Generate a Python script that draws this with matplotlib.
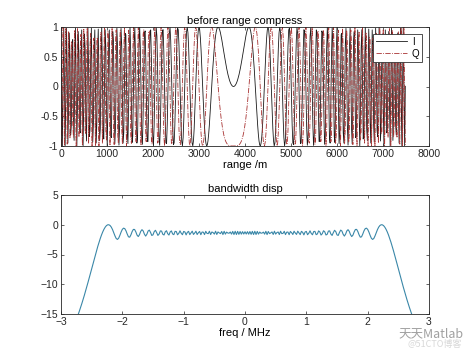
import numpy as np
import matplotlib
matplotlib.use("Agg")
import matplotlib.pyplot as plt

# chirp parameters
c = 3e8
pulse_width = 50e-6        # s  -> 7500 m of range
bandwidth = 5.0e6          # Hz -> spectrum peaks near +-2.22 MHz
fs = 2.0 * bandwidth       # sample rate
range_ticks = [0, 1000, 2000, 3000, 4000, 5000, 6000, 7000, 8000]
amp_ticks = [-1, -0.5, 0, 0.5, 1]
amp_labels = ['-1', '-0.5', '0', '0.5', '1']
freq_ticks = [-3, -2, -1, 0, 1, 2, 3]
db_ticks = [-15, -10, -5, 0, 5]

K = bandwidth / pulse_width
n = int(round(pulse_width * fs))
t = np.arange(n) / fs
tau = t - pulse_width / 2
sig = -1j * np.exp(1j * np.pi * K * tau ** 2)
rng = c * t / 2

spec = np.fft.fftshift(np.abs(np.fft.fft(sig)))
spec_db = 20 * np.log10(spec / spec.max())
freq = np.fft.fftshift(np.fft.fftfreq(n, 1 / fs)) / 1e6

plt.rcParams['font.family'] = ['Liberation Sans', 'DejaVu Sans']
plt.rcParams['font.size'] = 7.5

fig = plt.figure(figsize=(4.74, 3.55), dpi=100)
ax1 = fig.add_axes([61 / 474, 1 - 146 / 355, 368 / 474, 119 / 355])
ax2 = fig.add_axes([61 / 474, 1 - 314 / 355, 368 / 474, 119 / 355])

ax1.plot(rng, sig.real, color='#1a1a1a', lw=0.6, label='I')
ax1.plot(rng, sig.imag, color='#a83232', lw=0.6, ls='-.', label='Q')
ax1.set_xlim(0, 8000)
ax1.set_ylim(-1, 1)
ax1.set_xticks(range_ticks)
ax1.set_yticks(amp_ticks)
ax1.set_yticklabels(amp_labels)
ax1.set_title('before range compress', fontsize=8, pad=2)
ax1.set_xlabel('range /m', fontsize=8, labelpad=1)
leg = ax1.legend(loc='upper right', fontsize=7, fancybox=False, framealpha=1,
                 edgecolor='#333333', handlelength=3.2, borderaxespad=0.7,
                 borderpad=0.3, labelspacing=0.2, handletextpad=0.5)
leg.get_frame().set_linewidth(0.6)

ax2.plot(freq, spec_db, color='#3a87a8', lw=0.8)
ax2.set_xlim(-3, 3)
ax2.set_ylim(-15, 5)
ax2.set_xticks(freq_ticks)
ax2.set_yticks(db_ticks)
ax2.set_title('bandwidth disp', fontsize=8, pad=2)
ax2.set_xlabel('freq / MHz', fontsize=8, labelpad=1)

for ax in (ax1, ax2):
    ax.tick_params(direction='in', top=True, right=True, length=2.5,
                   width=0.5, pad=2, colors='#262626')
    for s in ax.spines.values():
        s.set_linewidth(0.6)
        s.set_color('#262626')

fig.text(398 / 474, 1 - 334 / 355, '天天Matlab', fontsize=9, color='#a0a0a0',
         va='center', family=['Noto Sans CJK SC', 'DejaVu Sans'])
fig.text(408 / 474, 1 - 344 / 355, '@51CTO博客', fontsize=6.5, color='#d8d8d8',
         va='center', family=['Noto Sans CJK SC', 'DejaVu Sans'])

fig.savefig('out.png', dpi=100)
